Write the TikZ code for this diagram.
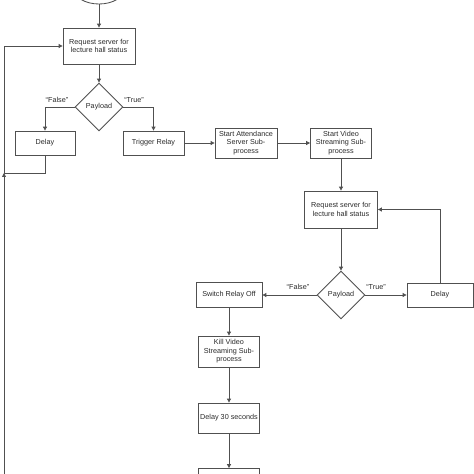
\documentclass[tikz,border=0pt]{standalone}
\usepackage{fontspec}
\setmainfont{Liberation Sans}
\usetikzlibrary{shapes.geometric,arrows.meta}
\definecolor{lncol}{HTML}{505050}
\definecolor{txtcol}{HTML}{2A2A2A}

\begin{document}
\begin{tikzpicture}[x=0.05cm, y=-0.05cm,
    font=\fontsize{10.3}{12}\selectfont, text=txtcol,
    procbox/.style={draw=lncol, line width=1.2pt, align=center, inner sep=1pt},
    decide/.style={draw=lncol, line width=1.2pt, diamond, aspect=1, inner sep=0pt, minimum width=2.4cm, minimum height=2.4cm},
    flow/.style={draw=lncol, line width=1.2pt, -{Triangle[length=5.5pt,width=5.5pt]}},
    branch/.style={fill=white, inner sep=1pt}]
\clip (0,0) rectangle (474,474);

\node[draw=lncol, line width=1.2pt, ellipse, minimum width=2.5cm, minimum height=1.5cm] (start) at (99,-11) {}; % start
\node[procbox, minimum width=3.6cm, minimum height=1.8cm] (req1) at (99,46) {Request server for\\lecture hall status};
\node[decide] (pay1) at (99,107) {Payload};
\node[procbox, minimum width=3cm, minimum height=1.2cm] (delay1) at (45,143) {Delay};
\node[procbox, minimum width=3.05cm, minimum height=1.2cm] (trig) at (153.5,143) {Trigger Relay};
\node[procbox, minimum width=3.1cm, minimum height=1.5cm] (att) at (246,143) {Start Attendance\\Server Sub-\\process};
\node[procbox, minimum width=3.05cm, minimum height=1.5cm] (vid) at (341,143) {Start Video\\Streaming Sub-\\process};

\node[procbox, minimum width=3.65cm, minimum height=1.85cm] (req2) at (341,209.5) {Request server for\\lecture hall status};
\node[decide] (pay2) at (341,295) {Payload};
\node[procbox, minimum width=3.3cm, minimum height=1.25cm] (off) at (229,295) {Switch Relay Off};
\node[procbox, minimum width=3.3cm, minimum height=1.2cm] (delay2) at (440,295) {Delay};
\node[procbox, minimum width=3.05cm, minimum height=1.55cm] (kill) at (229,351.5) {Kill Video\\Streaming Sub-\\process};
\node[procbox, minimum width=3.05cm, minimum height=1.5cm] (wait) at (229,418) {Delay 30 seconds};
\node[procbox, minimum width=3.05cm, minimum height=1.5cm] (next) at (229,483.5) {}; % cut off

\coordinate (loop) at (4,173);
\coordinate (loopin) at (4,480);

\draw[flow] (start) -- (req1);
\draw[flow] (req1) -- (pay1);
\draw[flow] (pay1.west) -| (delay1.north);
\draw[flow] (pay1.east) -| (trig.north);
\draw[flow] (trig) -- (att);
\draw[flow] (att) -- (vid);
\draw[flow] (vid) -- (req2);
\draw[flow] (delay1.south) |- (loop) |- (req1.west);
\draw[flow] (loopin) -- (loop);

\draw[flow] (req2) -- (pay2);
\draw[flow] (pay2) -- (off);
\draw[flow] (pay2) -- (delay2);
\draw[flow] (delay2.north) |- (req2.east);
\draw[flow] (off) -- (kill);
\draw[flow] (kill) -- (wait);
\draw[flow] (wait) -- (next);

\node[branch] (f1) at (57,100) {``False''};
\node[branch] (t1) at (134,100) {``True''};
\node[branch] (f2) at (298,287) {``False''};
\node[branch] (t2) at (376,287) {``True''};
\end{tikzpicture}
\end{document}
